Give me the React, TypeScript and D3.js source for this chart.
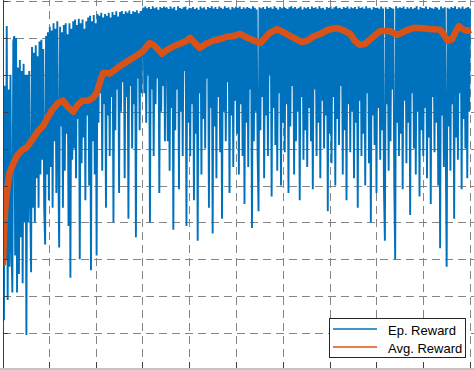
import React, { useEffect, useRef } from 'react';
import * as d3 from 'd3';

// Episode reward, one value per episode (0..499)
const epReward = [
  -716, -865, -230, -700, -68, -810, -240, -720, -200, -660, -790, -110, -95, -690, -100, -790, -180, -740, -160, -640, -190, -765, -170, -600, -200,
  -905, -200, -600, -190, -520, -735, -125, -560, -140, -600, -120, -480, -150, -560, -110, -470, -105, -430, -130, -560, -660, -95, -470, -85, -540,
  -70, -450, -80, -560, -60, -380, -75, -520, -55, -420, -668, -70, -340, -85, -560, -65, -460, -60, -360, -90, -610, -60, -750, -75, -430,
  -55, -400, -50, -480, -65, -320, -48, -700, -60, -440, -50, -370, -75, -540, -55, -310, -45, -500, -40, -730, -55, -380, -38, -470, -60,
  -690, -35, -330, -40, -250, -32, -460, -45, -280, -35, -560, -40, -310, -32, -420, -45, -260, -30, -600, -38, -350, -28, -240, -42, -520,
  -30, -300, -27, -220, -35, -480, -28, -260, -32, -590, -26, -230, -35, -400, -28, -280, -30, -640, -25, -210, -33, -350, -27, -250, -30,
  -18, -250, -15, -330, -20, -200, -16, -600, -22, -240, -14, -420, -20, -280, -17, -210, -24, -520, -16, -300, -19, -230, -15, -380, -20,
  -18, -380, -22, -460, -15, -290, -20, -620, -16, -350, -25, -240, -14, -510, -19, -300, -21, -420, -17, -190, -15, -610, -23, -330, -18,
  -420, -20, -280, -16, -540, -22, -360, -18, -650, -24, -250, -15, -470, -20, -320, -17, -400, -23, -210, -16, -560, -19, -290, -14, -630,
  -20, -340, -16, -480, -22, -260, -15, -410, -18, -590, -21, -300, -14, -380, -19, -220, -17, -520, -23, -310, -16, -450, -20, -270, -15,
  -360, -18, -470, -15, -280, -22, -420, -17, -550, -20, -330, -16, -450, -19, -240, -21, -615, -14, -380, -18, -300, -23, -410, -570, -17,
  -350, -20, -260, -16, -480, -22, -310, -15, -420, -19, -200, -17, -530, -21, -290, -14, -390, -18, -460, -23, -250, -16, -500, -20, -330,
  -15, -410, -19, -280, -22, -520, -17, -340, -14, -230, -20, -470, -16, -380, -21, -300, -18, -540, -15, -260, -23, -430, -17, -350, -20,
  -450, -16, -290, -22, -380, -15, -510, -19, -240, -17, -420, -21, -330, -14, -480, -20, -270, -18, -400, -23, -310, -16, -570, -19, -360,
  -15, -440, -21, -260, -17, -500, -14, -320, -20, -390, -18, -230, -22, -470, -16, -350, -19, -540, -15, -280, -21, -410, -17, -300, -20,
  -480, -16, -330, -22, -560, -15, -270, -19, -420, -17, -360, -21, -500, -14, -250, -20, -440, -18, -600, -23, -310, -16, -390, -19, -520,
  -18, -290, -21, -430, -15, -350, -20, -510, -650, -17, -280, -22, -460, -16, -380, -19, -240, -21, -490, -700, -14, -330, -20, -420, -17,
  -360, -19, -510, -15, -270, -22, -440, -17, -330, -20, -580, -16, -250, -21, -400, -18, -470, -14, -300, -23, -530, -16, -350, -19, -420,
  -20, -290, -15, -480, -22, -370, -17, -550, -19, -260, -21, -410, -16, -330, -18, -500, -23, -670, -15, -310, -20, -450, -17, -390, -720,
  -18, -340, -21, -460, -16, -280, -19, -590, -14, -370, -22, -430, -17, -250, -20, -510, -15, -320, -21, -400, -18, -480, -16, -300, -20,
];

// Average reward (read at a subset of episodes)
const avgEpisode = [
  0, 1, 2, 3, 5, 7, 11, 15, 20, 26, 32, 37, 43, 47, 52, 59, 64, 69, 75, 80, 85, 91, 96, 100,
  104, 107, 111, 114, 120, 125, 132, 139, 144, 150, 154, 157, 161, 166, 170, 174, 181, 189, 196, 200,
  205, 210, 217, 224, 232, 239, 246, 253, 259, 264, 269, 275, 280, 285, 293, 299, 307, 313, 319, 325,
  331, 339, 347, 357, 365, 371, 376, 381, 387, 394, 403, 413, 421, 430, 438, 446, 456, 467, 472, 475,
  480, 483, 487, 491, 496, 500,
];
const avgReward = [
  -716, -635, -581, -541, -500, -465, -441, -419, -405, -395, -373, -354, -338, -319, -297, -276, -270, -286, -300, -281, -270, -270, -262, -249,
  -216, -195, -195, -197, -186, -176, -165, -154, -146, -135, -122, -114, -119, -132, -143, -135, -124, -116, -108, -100,
  -114, -127, -116, -108, -103, -97, -95, -89, -97, -103, -108, -114, -100, -86, -76, -84, -95, -103, -111, -108,
  -97, -89, -78, -73, -81, -89, -108, -119, -116, -100, -81, -81, -92, -81, -73, -73, -76, -78, -95, -108,
  -103, -86, -68, -76, -81, -78,
];

const xTicks = [0, 50, 100, 150, 200, 250, 300, 350, 400, 450, 500];
const yTicks = [-1000, -900, -800, -700, -600, -500, -400, -300, -200, -100, 0];
const legendLabels = ['Ep. Reward', 'Avg. Reward'];
const seriesColors = ['#0072BD', '#D95319'];

const W = 474;
const H = 370;

const App = () => {
  const svgRef = useRef(null);

  useEffect(() => {
    const svg = d3.select(svgRef.current);
    svg.selectAll('*').remove();

    const x = d3.scaleLinear().domain([0, 500]).range([3, 471]);
    const y = d3.scaleLinear().domain([-1000, 0]).range([370, 1]);

    svg.append('rect').attr('width', W).attr('height', H).attr('fill', '#fff');

    svg.append('clipPath').attr('id', 'plot-clip')
      .append('rect').attr('x', 3).attr('y', 0).attr('width', W - 3).attr('height', H);

    // dashed grid
    const grid = svg.append('g')
      .attr('stroke', '#858585')
      .attr('stroke-width', 1)
      .attr('stroke-dasharray', '8,5')
      .attr('fill', 'none');
    grid.selectAll('line.gx').data(xTicks.slice(1)).join('line')
      .attr('class', 'gx')
      .attr('x1', d => Math.round(x(d)) - 0.5).attr('x2', d => Math.round(x(d)) - 0.5)
      .attr('y1', H).attr('y2', 0);
    grid.selectAll('line.gy').data(yTicks.slice(1)).join('line')
      .attr('class', 'gy')
      .attr('y1', d => Math.round(y(d)) + 0.5).attr('y2', d => Math.round(y(d)) + 0.5)
      .attr('x1', 3).attr('x2', W);

    const plot = svg.append('g').attr('clip-path', 'url(#plot-clip)');

    // episode reward
    const epLine = d3.line<number>().x((d, i) => x(i)).y(d => y(d));
    plot.append('path')
      .attr('d', epLine(epReward))
      .attr('fill', 'none')
      .attr('stroke', seriesColors[0])
      .attr('stroke-width', 1.9)
      .attr('stroke-linejoin', 'bevel');

    // average reward
    const avgLine = d3.line<number>().x((d, i) => x(avgEpisode[i])).y(d => y(d));
    plot.append('path')
      .attr('d', avgLine(avgReward))
      .attr('fill', 'none')
      .attr('stroke', seriesColors[1])
      .attr('stroke-width', 6.5)
      .attr('stroke-linejoin', 'round');

    // axes
    svg.append('line')
      .attr('x1', 3.5).attr('x2', 3.5).attr('y1', 0).attr('y2', H)
      .attr('stroke', '#404040').attr('stroke-width', 1);
    svg.append('rect')
      .attr('x', 0).attr('y', 368).attr('width', W).attr('height', 2)
      .attr('fill', '#c4c4c4');

    const ticks = svg.append('g').attr('stroke', '#404040').attr('stroke-width', 1);
    ticks.selectAll('line.ty').data(yTicks.slice(1)).join('line')
      .attr('class', 'ty')
      .attr('x1', 3).attr('x2', 8)
      .attr('y1', d => Math.round(y(d)) + 0.5).attr('y2', d => Math.round(y(d)) + 0.5);
    ticks.selectAll('line.tx').data(xTicks.slice(1)).join('line')
      .attr('class', 'tx')
      .attr('x1', d => Math.round(x(d)) - 0.5).attr('x2', d => Math.round(x(d)) - 0.5)
      .attr('y1', 368).attr('y2', 362);

    // legend
    const lg = svg.append('g').attr('transform', 'translate(329,318)');
    lg.append('rect')
      .attr('x', 0.5).attr('y', 0.5).attr('width', 136).attr('height', 39)
      .attr('fill', '#fff').attr('stroke', '#262626').attr('stroke-width', 1);
    legendLabels.forEach((label, i) => {
      const cy = 11 + i * 18;
      lg.append('line')
        .attr('x1', 4).attr('x2', 48).attr('y1', cy).attr('y2', cy)
        .attr('stroke', seriesColors[i]).attr('stroke-width', 1.5);
      lg.append('text')
        .attr('x', 59).attr('y', cy + 6)
        .attr('font-family', 'Liberation Sans, Arial, sans-serif')
        .attr('font-size', 13)
        .attr('fill', '#000')
        .text(label);
    });
  }, []);

  return (
    <svg
      ref={svgRef}
      width={W}
      height={H}
      style={{ position: 'absolute', left: 0, top: 0, display: 'block' }}
    />
  );
};

export default App;
